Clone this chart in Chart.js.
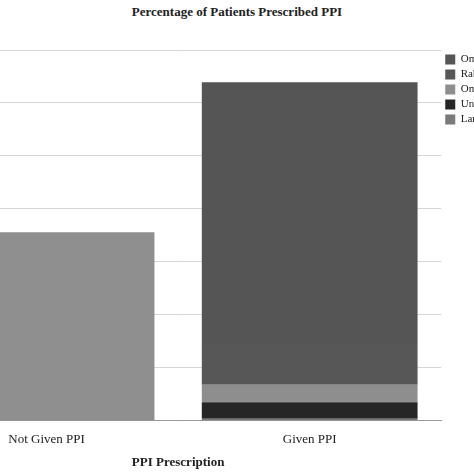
<!DOCTYPE html>
<html><head><meta charset="utf-8">
<script src="https://cdn.jsdelivr.net/npm/chart.js@4"></script>
<style>
body{margin:0;width:474px;height:474px;overflow:hidden;position:relative;background:#fff}
#wrap{position:absolute;left:-110px;top:0;width:640px;height:474px}
#title{position:absolute;top:4px;left:0;width:474px;text-align:center;font:bold 13px "Liberation Serif",serif;color:#222}
</style></head><body>
<div id="title">Percentage of Patients Prescribed PPI</div>
<div id="wrap"><canvas id="c"></canvas></div>
<script>
const categories = ['Not Given PPI', 'Given PPI'];
const notGiven = [35.6, 0];
const omeprazole = [0, 49.4];
const rabeprazole = [0, 7.7];
const omeprazole2 = [0, 3.3];
const unknown = [0, 3.1];
const lansoprazole = [0, 0.4];
const yTicks = [0, 10, 20, 30, 40, 50, 60, 70];

const serif = '"Liberation Serif", serif';
new Chart(document.getElementById('c'), {
    type: 'bar',
    data: {
        labels: categories,
        datasets: [
            { label: 'Not Given', data: notGiven, backgroundColor: '#8f8f8f' },
            { label: 'Lansoprazole', data: lansoprazole, backgroundColor: '#7a7a7a' },
            { label: 'Unknown', data: unknown, backgroundColor: '#262626' },
            { label: 'Omeprazole', data: omeprazole2, backgroundColor: '#8e8e8e' },
            { label: 'Rabeprazole', data: rabeprazole, backgroundColor: '#575757' },
            { label: 'Omeprazole', data: omeprazole, backgroundColor: '#555555' }
        ]
    },
    options: {
        responsive: true, maintainAspectRatio: false, animation: false,
        layout: { padding: { top: 50, left: 0 } },
        datasets: { bar: { barPercentage: 0.82, categoryPercentage: 1 } },
        scales: {
            x: {
                stacked: true,
                grid: { display: false },
                border: { color: '#999' },
                ticks: { color: '#222', font: { family: serif, size: 13 } },
                title: { display: true, text: 'PPI Prescription', color: '#222', font: { family: serif, size: 13, weight: 'bold' } }
            },
            y: {
                stacked: true, min: 0, max: 70,
                afterBuildTicks: s => { s.ticks = yTicks.map(v => ({ value: v })); },
                grid: { color: '#d6d6d6' },
                border: { display: false },
                ticks: { color: '#222', font: { family: serif, size: 11 } }
            }
        },
        plugins: {
            legend: {
                position: 'right', align: 'start', reverse: true,
                labels: {
                    filter: item => item.text !== 'Not Given',
                    boxWidth: 10, boxHeight: 10, padding: 4,
                    color: '#222', font: { family: serif, size: 11 }
                }
            },
            tooltip: { enabled: false }
        }
    }
});
</script>
</body></html>
